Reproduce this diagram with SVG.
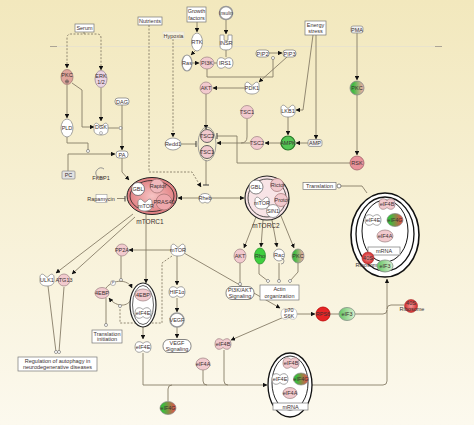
<svg xmlns="http://www.w3.org/2000/svg" width="474" height="425" viewBox="0 0 474 425">
<defs>
<linearGradient id="bg" x1="0" y1="0" x2="0" y2="1"><stop offset="0" stop-color="#f2e8bd"/><stop offset="1" stop-color="#fcf9ee"/></linearGradient>
<linearGradient id="gr" x1="0" y1="0" x2="1" y2="0"><stop offset="0.2" stop-color="#3dbb3d"/><stop offset="0.9" stop-color="#d9584c"/></linearGradient>
<linearGradient id="gp" x1="0" y1="0" x2="1" y2="0"><stop offset="0.25" stop-color="#44bb44"/><stop offset="0.85" stop-color="#dcae9c"/></linearGradient>
<linearGradient id="lg" x1="0" y1="0" x2="1" y2="0"><stop offset="0" stop-color="#62c462"/><stop offset="1" stop-color="#d8f0d0"/></linearGradient>
<radialGradient id="red"><stop offset="0" stop-color="#f39a9a"/><stop offset="1" stop-color="#d42a2a"/></radialGradient>
<radialGradient id="c1"><stop offset="0" stop-color="#f6c4c4"/><stop offset="1" stop-color="#e07c7e"/></radialGradient>
<marker id="ar" viewBox="0 0 6 6" refX="5.5" refY="3" markerWidth="4.5" markerHeight="4.5" markerUnits="userSpaceOnUse" orient="auto"><path d="M0,0 L6,3 L0,6 Z" fill="#111"/></marker>
<marker id="ars" viewBox="0 0 6 6" refX="5.5" refY="3" markerWidth="4.5" markerHeight="4.5" markerUnits="userSpaceOnUse" orient="auto-start-reverse"><path d="M0,0 L6,3 L0,6 Z" fill="#111"/></marker>
<marker id="tee" viewBox="0 0 2 8" refX="1" refY="4" markerWidth="1.5" markerHeight="6" markerUnits="userSpaceOnUse" orient="auto"><path d="M1,0 V8" stroke="#444" stroke-width="1.4"/></marker>
<marker id="oc" viewBox="0 0 6 6" refX="3" refY="3" markerWidth="4" markerHeight="4" markerUnits="userSpaceOnUse" orient="auto"><circle cx="3" cy="3" r="2.3" fill="#fff" stroke="#666" stroke-width="0.9"/></marker>
<path id="kin" d="M-7,-3 C-7,-6 -4,-6.5 -3,-5 L0,-2.5 L3,-5 C4,-6.5 7,-6 7,-3 L7,1 C7,5 3,6 0,6 C-3,6 -7,5 -7,1 Z"/>
<path id="pea" d="M-8,0 C-8,-6 -3,-6.5 0,-3.5 C3,-6.5 8,-6 8,0 C8,6 3,6.5 0,3.5 C-3,6.5 -8,6 -8,0 Z"/>
</defs>
<style>
.ln{fill:none;stroke:#877d68;stroke-width:0.9}
.da{stroke-dasharray:2,1.5}
.a{marker-end:url(#ar)}
.tb{marker-end:url(#tee)}
.oc{marker-end:url(#oc)}
.t{font-family:"Liberation Sans",Arial,sans-serif;font-size:5.5px;fill:#3b3030;text-anchor:middle}
.s{font-size:4.8px}
.big{font-size:6.5px}
.pk{fill:#f2cace;stroke:#a68a8c;stroke-width:0.8}
.wh{fill:#fff;stroke:#8c8c8c;stroke-width:0.8}
.bx{fill:#fff;stroke:#777;stroke-width:0.7}
.cx{stroke:#111;fill:none}
</style>
<rect width="474" height="425" fill="url(#bg)"/>
<path d="M50,46.5 H442" stroke="#e6e1cf" stroke-width="0.8"/>
<path d="M50,46.5 H57 M435,46.5 H442" stroke="#9a9488" stroke-width="0.8"/>

<g id="connectors">
<path class="ln da a" d="M84,32 V34 H71 Q67,34 67,38 V68"/>
<path class="ln da a" d="M84,34 H97 Q101,34 101,38 V70"/>
<path class="ln a" d="M67,85 V118"/>
<path class="ln a" d="M101,88 V121"/>
<path class="ln a" d="M72,83 L82,90 V127 H94"/>
<path class="ln a" d="M122,105 V150"/>
<path class="ln oc" d="M107,128 H120.5"/>
<path class="ln oc" d="M67,137 V143 H88 V151"/>
<path class="ln a" d="M68,171 V154 H115"/>
<path class="ln a" d="M122,158 V172 L129,180"/>
<path class="ln tb" d="M117,198.5 H125"/>
<path class="ln da a" d="M149,25 V172 H192 L201,187"/>
<path class="ln da a" d="M173,39 V137"/>
<path class="ln tb" d="M181,144 H196"/>
<path class="ln a" d="M197,22 V32"/>
<path class="ln a" d="M226,20 V34"/>
<path class="ln a" d="M196,50 L191,55"/>
<path class="ln a" d="M192,63 H199"/>
<path class="ln" d="M214,63 H218"/>
<path class="ln" d="M226,49 V57"/>
<path class="ln oc" d="M207,69 V77 H273 V58"/>
<path class="ln a" d="M269,53 H282"/>
<path class="ln a" d="M287,57 L259,82"/>
<path class="ln a" d="M245,88 H213"/>
<path class="ln a" d="M206,94 V129"/>
<path class="ln" d="M247,119 V137 Q247,143 241,143"/>
<path class="ln a" d="M250,143 H217"/>
<path class="ln tb" d="M350,163 H237 V136 H217"/>
<path class="ln a" d="M281,143 H265"/>
<path class="ln a" d="M308,143 H296"/>
<path class="ln a" d="M288,117 V135"/>
<path class="ln a" d="M313,35 L303,110 H296"/>
<path class="ln a" d="M316,35 V139"/>
<path class="ln a" d="M357,33 V80"/>
<path class="ln a" d="M357,95 V155"/>
<path class="ln" d="M178,198 H244" marker-start="url(#ars)" marker-end="url(#ars)"/>
<path class="ln tb" d="M206,160 V185"/>
<path class="ln a" d="M133,214 L56,273"/>
<path class="ln a" d="M135,217 L72,274"/>
<path class="ln oc" d="M48,286 L56,352"/>
<path class="ln oc" d="M64,287 L59,352"/>
<path class="ln a" d="M146,214 V283"/>
<path class="ln a" d="M171,250 H129"/>
<path class="ln oc" d="M121,256 V280"/>
<path class="ln a" d="M106,288 C113,279 128,279 132,288"/>
<path class="ln a" d="M131,300 C126,308 115,306 109,298"/>
<path class="ln da oc" d="M172,256 L162,263 V323 H120 V306"/>
<path class="ln oc" d="M106,298 V325"/>
<path class="ln a" d="M143,327 V339"/>
<path class="ln a" d="M177,256 V285"/>
<path class="ln a" d="M177,298 V312"/>
<path class="ln a" d="M177,327 V338"/>
<path class="ln a" d="M184,253 L280,308"/>
<path class="ln a" d="M295,314 H315"/>
<path class="ln" d="M330,314 H339"/>
<path class="ln" d="M355,314 H383 Q387,314 387,310"/>
<path class="ln a" d="M284,317 L231,340"/>
<path class="ln" d="M224,350 V381 Q224,385 228,385"/>
<path class="ln" d="M203,370 V381 Q203,385 207,385"/>
<path class="ln a" d="M143,353 V385 H267"/>
<path class="ln" d="M168,401 V389 Q168,385 172,385"/>
<path class="ln a" d="M309,385 H383 Q387,385 387,381 V279"/>
<path class="ln" d="M387,309 Q387,305 391,305 H404"/>
<path class="ln" d="M341,186 H362 L367,193"/>
<circle cx="339" cy="186" r="2" fill="#fff" stroke="#666" stroke-width="0.8"/>
<path class="ln a" d="M256,217 L244,248"/>
<path class="ln a" d="M263,220 L261,247"/>
<path class="ln a" d="M272,220 L277,247"/>
<path class="ln a" d="M281,216 L294,248"/>
<path class="ln oc" d="M240,263 V284"/>
<path class="ln oc" d="M259,264 V274 L268,281"/>
<path class="ln oc" d="M279,263 V281"/>
<path class="ln oc" d="M298,263 V272 L290,281"/>
</g>

<g id="serum"><rect class="bx" x="75" y="24" width="19" height="8"/><text class="t" x="84.5" y="30">Serum</text></g>
<g id="nutrients"><rect class="bx" x="138" y="17" width="24" height="8"/><text class="t" x="150" y="23">Nutrients</text></g>
<g id="growth"><rect class="bx" x="187" y="7" width="19" height="15"/><text class="t" x="196.5" y="13">Growth</text><text class="t" x="196.5" y="19.5">factors</text></g>
<g id="insulin"><circle cx="226" cy="13" r="6.5" fill="#fff" stroke="#999" stroke-width="1.6"/><text class="t s" x="226" y="15">Insulin</text></g>
<g id="hypoxia"><rect x="163" y="32" width="21" height="7" fill="#f6f1dc" stroke="#ddd" stroke-width="0.5"/><text class="t" x="173.5" y="37.5">Hypoxia</text></g>
<g id="energy"><rect class="bx" x="305" y="21" width="21" height="14"/><text class="t" x="315.5" y="27">Energy</text><text class="t" x="315.5" y="33">stress</text></g>
<g id="pma"><rect x="351" y="26" width="12" height="7" rx="2" fill="#eee" stroke="#888" stroke-width="0.7"/><text class="t" x="357" y="31.5">PMA</text></g>

<g id="pkc1"><ellipse cx="67" cy="77" rx="6" ry="7.5" fill="#e0a59b" stroke="#a07a74" stroke-width="0.8"/><text class="t" x="67" y="77">PKC</text><circle cx="67" cy="81.5" r="1.6" fill="none" stroke="#444" stroke-width="0.5"/><path d="M65.4,81.5 H68.6 M67,79.9 V83.1" stroke="#444" stroke-width="0.5"/></g>
<g id="erk"><ellipse cx="101" cy="79" rx="6" ry="8.5" fill="#ead3e3" stroke="#9a8a96" stroke-width="0.8"/><text class="t" x="101" y="78">ERK</text><text class="t" x="101" y="84">1/2</text></g>
<g id="pld"><ellipse class="wh" cx="67" cy="128" rx="6" ry="9"/><text class="t" x="67" y="130">PLD</text></g>
<g id="dgk"><use href="#kin" x="101" y="129" class="wh"/><text class="t" x="101" y="129">DGK</text><circle cx="101" cy="133" r="1.5" fill="none" stroke="#777" stroke-width="0.5"/></g>
<g id="dag"><rect class="bx" x="115" y="98" width="14" height="7" rx="3"/><text class="t" x="122" y="103.5">DAG</text></g>
<g id="pa"><rect class="bx" x="116" y="151" width="12" height="7" rx="3"/><text class="t" x="122" y="156.5">PA</text></g>
<g id="pc"><rect x="62" y="171" width="13" height="8" fill="#e2e2e2" stroke="#888" stroke-width="0.7" rx="1"/><text class="t" x="68.5" y="177">PC</text></g>
<g id="fkbp1"><path d="M104,169 A5,5 0 1 0 104,177" fill="none" stroke="#888" stroke-width="0.9"/><text class="t" x="101" y="180">FKBP1</text></g>
<g id="rapamycin"><rect x="96" y="194.5" width="11" height="8" fill="#fff" stroke="#999" stroke-width="0.6"/><text class="t" x="101" y="200.5">Rapamycin</text></g>

<g id="rtk"><ellipse class="wh" cx="197" cy="42" rx="5.5" ry="9"/><text class="t" x="197" y="44">RTK</text></g>
<g id="insr"><path d="M220,35 H224 V40 Q226,42 228,40 V35 H232 V46 Q232,50 226,50 Q220,50 220,46 Z" class="wh"/><text class="t" x="226" y="45">INSR</text></g>
<g id="ras"><ellipse cx="187" cy="63" rx="5" ry="8" fill="#fff" stroke="#999" stroke-width="1.2"/><text class="t" x="187" y="65">Ras</text></g>
<g id="pi3k"><ellipse class="pk" cx="207" cy="63" rx="7" ry="6"/><text class="t" x="207" y="65">PI3K</text></g>
<g id="irs1"><use href="#pea" x="225" y="63" class="wh"/><text class="t" x="225" y="65">IRS1</text></g>
<g id="pip2"><rect class="bx" x="256" y="50" width="13" height="7" rx="3"/><text class="t" x="262.5" y="55.5">PIP2</text></g>
<g id="pip3"><rect class="bx" x="283" y="50" width="13" height="7" rx="3"/><text class="t" x="289.5" y="55.5">PIP3</text></g>
<g id="pdk1"><use href="#kin" x="252" y="88" class="wh"/><text class="t" x="252" y="90">PDK1</text></g>
<g id="akt1"><circle class="pk" cx="206" cy="88" r="6"/><text class="t" x="206" y="90">AKT</text></g>
<g id="tsc1a"><circle class="pk" cx="247" cy="112" r="6.5"/><text class="t" x="247" y="114">TSC1</text></g>
<g id="lkb1"><use href="#kin" x="288" y="111" class="wh"/><text class="t" x="288" y="113">LKB1</text></g>
<g id="tsc"><ellipse cx="207" cy="144" rx="9" ry="17" fill="none" stroke="#8a8a8a" stroke-width="0.8"/><circle cx="207" cy="136" r="6.5" fill="#f2cace" stroke="#555" stroke-width="0.9"/><text class="t" x="207" y="138">TSC2</text><circle cx="207" cy="152" r="6.5" fill="#f2cace" stroke="#555" stroke-width="0.9"/><text class="t" x="207" y="154">TSC1</text></g>
<g id="redd1"><ellipse class="wh" cx="173" cy="144" rx="8" ry="6"/><text class="t" x="173" y="146">Redd1</text></g>
<g id="tsc2b"><circle class="pk" cx="257" cy="143" r="6.5"/><text class="t" x="257" y="145">TSC2</text></g>
<g id="ampk"><circle cx="288" cy="143" r="7" fill="#55c655" stroke="#2a7a2a" stroke-width="1.2"/><text class="t" x="288" y="145">AMPK</text></g>
<g id="amp"><rect x="308" y="139.5" width="14" height="7" rx="2" fill="#eee" stroke="#888" stroke-width="0.7"/><text class="t" x="315" y="145">AMP</text></g>
<g id="pkc2"><circle cx="357" cy="88" r="7" fill="url(#gp)" stroke="#888" stroke-width="0.8"/><text class="t" x="357" y="90">PKC</text></g>
<g id="rsk"><circle cx="357" cy="163" r="7" fill="#e8929a" stroke="#a06068" stroke-width="0.8"/><text class="t" x="357" y="165">RSK</text></g>

<g id="mtorc1"><ellipse cx="152" cy="196" rx="25" ry="18.5" fill="url(#c1)" stroke="#222" stroke-width="1"/><ellipse cx="152" cy="196" rx="22" ry="15.5" fill="none" stroke="#222" stroke-width="0.8"/>
<circle cx="157" cy="186" r="7" fill="#f0b8bc" stroke="#a07070" stroke-width="0.7"/><text class="t" x="158" y="188">Raptor</text>
<circle cx="164" cy="202" r="8" fill="#eea8ac" stroke="#a07070" stroke-width="0.7"/><text class="t" x="164" y="204">PRAS40</text>
<circle cx="138" cy="189" r="6.5" fill="#fff" stroke="#555" stroke-width="0.7"/><text class="t" x="138" y="191">GBL</text>
<use href="#kin" x="145" y="205" fill="#fff" stroke="#777" stroke-width="0.7"/><text class="t" x="146" y="208">mTOR</text>
<text class="t big" x="150" y="224">mTORC1</text></g>
<g id="mtorc2"><ellipse cx="267" cy="198" rx="22" ry="22" fill="#f8e4e6" stroke="#222" stroke-width="1.2"/><ellipse cx="267" cy="198" rx="19" ry="19" fill="none" stroke="#222" stroke-width="0.8"/>
<circle cx="277" cy="185" r="6.5" fill="#f2cace" stroke="#a07070" stroke-width="0.7"/><text class="t" x="278" y="187">Rictor</text>
<circle cx="281" cy="200" r="6.5" fill="#f2cace" stroke="#a07070" stroke-width="0.7"/><text class="t" x="282" y="202">Protor</text>
<circle cx="256" cy="187" r="7" fill="#fff" stroke="#555" stroke-width="0.7"/><text class="t" x="256" y="189">GBL</text>
<use href="#kin" x="262" y="203" fill="#fff" stroke="#777" stroke-width="0.7"/><text class="t" x="262" y="205">mTOR</text>
<circle cx="273" cy="211" r="6.5" fill="#fff" stroke="#777" stroke-width="0.7"/><text class="t" x="273" y="213">SIN1</text>
<text class="t big" x="266" y="228">mTORC2</text></g>
<g id="rheb"><path d="M199,198 C199,192 211,192 211,198 C211,203 207,204 205,202 C203,204 199,203 199,198 Z" class="wh"/><text class="t" x="205" y="200">Rheb</text></g>

<g id="pp2a"><circle class="pk" cx="122" cy="250" r="6"/><text class="t" x="122" y="252">PP2A</text></g>
<g id="mtor"><use href="#kin" x="178" y="250" class="wh"/><text class="t" x="178" y="252">mTOR</text></g>
<g id="ulk1"><use href="#kin" x="47" y="280" class="wh"/><text class="t" x="47" y="282">ULK1</text></g>
<g id="atg13"><circle class="pk" cx="64" cy="280" r="6"/><text class="t" x="64" y="282">ATG13</text></g>
<g id="regaut"><rect class="bx" x="18" y="357" width="79" height="14" stroke="#555"/><text class="t" x="57.5" y="362.5">Regulation of autophagy in</text><text class="t" x="57.5" y="369">neurodegenerative diseases</text></g>
<g id="ebp1"><ellipse class="pk" cx="102" cy="293" rx="7" ry="5.5"/><text class="t" x="102" y="295">4EBP</text></g>
<g id="phos"><circle cx="113" cy="283" r="2.5" fill="#fff" stroke="#888" stroke-width="0.6"/><text class="t" x="113" y="284.3" style="font-size:3.5px">P</text></g>
<g id="ebpcx"><ellipse cx="143" cy="305" rx="13" ry="22" fill="#fff" stroke="#222" stroke-width="1.2"/><ellipse cx="143" cy="305" rx="10.5" ry="19.5" fill="none" stroke="#222" stroke-width="0.7"/><ellipse class="pk" cx="143" cy="295" rx="8" ry="6"/><text class="t" x="143" y="297">4EBP</text><use href="#pea" x="143" y="313" class="wh"/><text class="t" x="143" y="315">eIF4E</text></g>
<g id="eif4e"><use href="#pea" x="143" y="347" class="wh"/><text class="t" x="143" y="349">eIF4E</text></g>
<g id="transinit"><rect class="bx" x="92" y="330" width="30" height="13" stroke="#555"/><text class="t" x="107" y="335.5">Translation</text><text class="t" x="107" y="341">initiation</text></g>
<g id="hif1a"><use href="#pea" x="177" y="292" class="wh"/><text class="t" x="177" y="294">HIF1α</text></g>
<g id="vegf"><circle cx="177" cy="320" r="7" fill="#fff" stroke="#999" stroke-width="1.5"/><text class="t" x="177" y="322">VEGF</text></g>
<g id="vegfsig"><rect x="163" y="339.5" width="28" height="13" rx="6" fill="#fff" stroke="#666" stroke-width="0.8"/><text class="t" x="177" y="345">VEGF</text><text class="t" x="177" y="350.5">Signaling</text></g>
<g id="akt2"><ellipse class="pk" cx="240" cy="256" rx="6" ry="7"/><text class="t" x="240" y="258">AKT</text></g>
<g id="rho"><ellipse cx="260" cy="256" rx="5.5" ry="8" fill="#3fcf3f" stroke="#2a8a2a" stroke-width="0.7"/><text class="t" x="260" y="258">Rho</text></g>
<g id="rac"><ellipse class="wh" cx="279" cy="255" rx="5.5" ry="6"/><path d="M281,258 A3,3 0 1 1 281,264" fill="none" stroke="#888" stroke-width="0.8"/><text class="t" x="279" y="257">Rac</text></g>
<g id="pkc3"><ellipse cx="298" cy="256" rx="6" ry="7" fill="url(#gp)" stroke="#888" stroke-width="0.7"/><text class="t" x="298" y="258">PKC</text></g>
<g id="pi3ksig"><rect x="226" y="286.5" width="28" height="13" rx="6" fill="#fff" stroke="#666" stroke-width="0.8"/><text class="t" x="240" y="292">PI3K/AKT</text><text class="t" x="240" y="297.5">Signaling</text></g>
<g id="actin"><rect class="bx" x="260" y="285" width="39" height="15" stroke="#555"/><text class="t" x="279.5" y="291">Actin</text><text class="t" x="279.5" y="297.5">organization</text></g>
<g id="p70"><use href="#pea" x="289" y="314" fill="#fff" stroke="#aaa" stroke-width="0.6"/><text class="t" x="289" y="312">p70</text><text class="t" x="289" y="318">S6K</text></g>
<g id="rps6"><circle cx="323" cy="314" r="7" fill="#e52626" stroke="#b00" stroke-width="0.8"/><text class="t" x="323" y="316">RPS6</text></g>
<g id="eif3a"><ellipse cx="347" cy="314" rx="8" ry="6.5" fill="url(#lg)" stroke="#8a9a8a" stroke-width="0.9"/><text class="t" x="347" y="316">eIF3</text></g>
<g id="ribo"><circle cx="411" cy="306" r="6.5" fill="url(#red)" stroke="#a33" stroke-width="0.6"/><text class="t" x="411" y="305">40S</text><text class="t" x="412" y="311">Ribosome</text></g>
<g id="eif4b"><use href="#pea" x="223" y="344" class="pk"/><text class="t" x="223" y="346">eIF4B</text></g>
<g id="eif4a"><ellipse class="pk" cx="203" cy="364" rx="7" ry="6"/><text class="t" x="203" y="366">eIF4A</text></g>
<g id="eif4g"><ellipse cx="168" cy="408" rx="8" ry="6.5" fill="url(#gr)" stroke="#888" stroke-width="0.7"/><text class="t" x="168" y="410">eIF4G</text></g>

<g id="cxbottom"><ellipse cx="290" cy="385" rx="22" ry="32" fill="#fff" stroke="#111" stroke-width="1.3"/><ellipse cx="290" cy="383" rx="18" ry="27" fill="none" stroke="#111" stroke-width="0.9"/>
<use href="#pea" x="291" y="363" class="pk"/><text class="t" x="291" y="365">eIF4B</text>
<use href="#pea" x="280" y="379" class="wh"/><text class="t" x="280" y="381">eIF4E</text>
<ellipse cx="301" cy="379" rx="7.5" ry="6" fill="url(#gr)" stroke="#888" stroke-width="0.7"/><text class="t" x="301" y="381">eIF4G</text>
<ellipse class="pk" cx="290" cy="393" rx="7" ry="5.5"/><text class="t" x="290" y="395">eIF4A</text>
<rect class="bx" x="273" y="403" width="35" height="7"/><text class="t" x="290.5" y="408.5">mRNA</text></g>

<g id="translation"><rect class="bx" x="303" y="182.5" width="33" height="7" stroke="#555"/><text class="t" x="319.5" y="188">Translation</text></g>
<g id="cxright"><ellipse cx="385" cy="235" rx="34" ry="42" fill="#fff" stroke="#111" stroke-width="1.6"/><ellipse cx="385" cy="234" rx="29" ry="37" fill="none" stroke="#111" stroke-width="1.3"/><ellipse cx="385" cy="231" rx="23" ry="31" fill="none" stroke="#111" stroke-width="1"/>
<use href="#pea" x="387" y="204" class="pk"/><text class="t" x="387" y="206">eIF4B</text>
<use href="#pea" x="373" y="220" class="wh"/><text class="t" x="373" y="222">eIF4E</text>
<ellipse cx="395" cy="220" rx="8" ry="6.5" fill="url(#gr)" stroke="#888" stroke-width="0.7"/><text class="t" x="395" y="222">eIF4G</text>
<ellipse class="pk" cx="385" cy="236" rx="8" ry="6"/><text class="t" x="385" y="238">eIF4A</text>
<rect class="bx" x="368" y="247" width="32" height="8"/><text class="t" x="384" y="253">mRNA</text>
<text class="t" x="368" y="267">Ribosome</text>
<circle cx="368" cy="258" r="6" fill="url(#red)" stroke="#a33" stroke-width="0.6"/><text class="t" x="368" y="260">40S</text>
<ellipse cx="385" cy="266" rx="8" ry="6" fill="url(#lg)" stroke="#8a9a8a" stroke-width="0.9"/><text class="t" x="385" y="268">eIF3</text></g>
</svg>
